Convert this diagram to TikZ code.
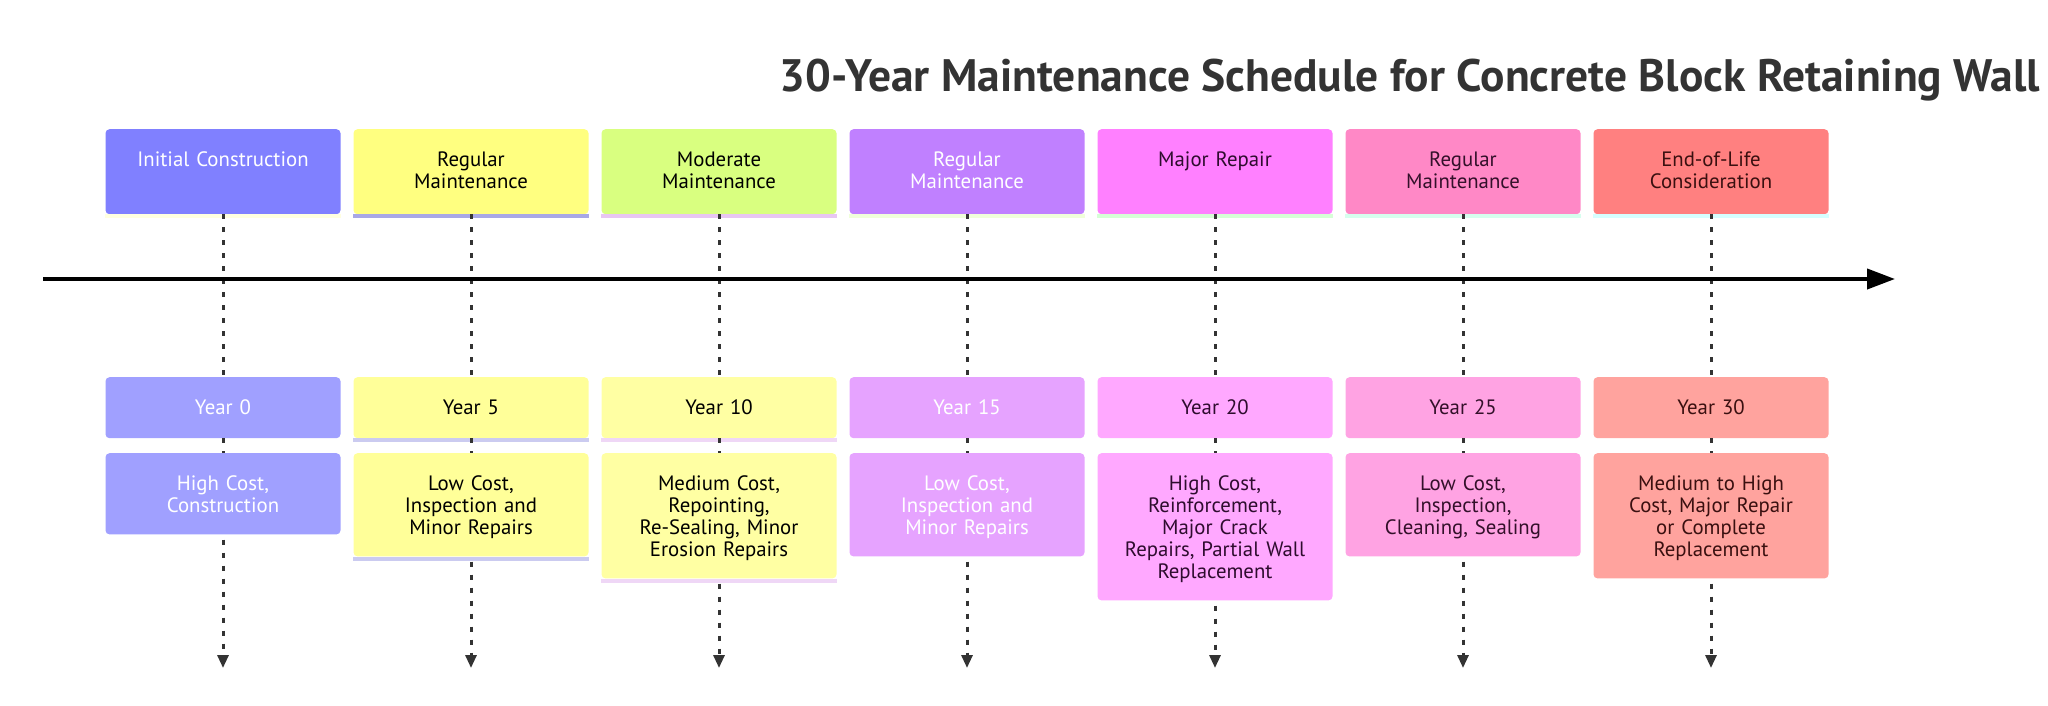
\documentclass[tikz,border=0pt]{standalone}
\usepackage{fontspec}
\setmainfont{PT Sans}
\usetikzlibrary{positioning,arrows.meta}

\definecolor{secA}{HTML}{8080FF}
\definecolor{secB}{HTML}{FFFF80}
\definecolor{secC}{HTML}{D9FF80}
\definecolor{secD}{HTML}{C080FF}
\definecolor{secE}{HTML}{FF80FF}
\definecolor{secF}{HTML}{FF88C6}
\definecolor{secG}{HTML}{FF8080}
\definecolor{evA}{HTML}{A0A0FF}
\definecolor{evB}{HTML}{FFFF99}
\definecolor{evC}{HTML}{FFFFA3}
\definecolor{evD}{HTML}{E6A3FF}
\definecolor{evE}{HTML}{FFA8FF}
\definecolor{evF}{HTML}{FFA3E3}
\definecolor{evG}{HTML}{FFA39E}
\definecolor{barA}{HTML}{FFFFE0}
\definecolor{barB}{HTML}{A8A8E6}
\definecolor{barC}{HTML}{E8C6F2}
\definecolor{barD}{HTML}{F0FFDA}
\definecolor{barE}{HTML}{D6FFD6}
\definecolor{barF}{HTML}{D6FFEE}
\definecolor{barG}{HTML}{D6FFFF}
\definecolor{txtE}{HTML}{2E0C2E}
\definecolor{txtF}{HTML}{33102A}
\definecolor{txtG}{HTML}{3A1010}
\definecolor{ink}{HTML}{333333}

\begin{document}
\begin{tikzpicture}[x=1pt,y=-1pt]
\tikzstyle{sec} = [anchor=north,text width=215pt,inner xsep=10pt,inner ysep=15.6pt,text height=21.4pt,text depth=32.4pt,align=center,rounded corners=4pt,font=\fontsize{20.8}{22}\selectfont]
\tikzstyle{yr} = [anchor=north,text width=215pt,inner xsep=10pt,inner ysep=0pt,minimum height=61pt,text height=14.5pt,text depth=0pt,align=center,rounded corners=4pt,font=\fontsize{20.8}{22}\selectfont]
\tikzstyle{ev} = [anchor=north,text width=215pt,inner xsep=10pt,inner ysep=15.6pt,text height=21.4pt,align=center,rounded corners=4pt,font=\fontsize{20.8}{22}\selectfont,execute at end node=\strut]
\tikzstyle{dl} = [ink,line width=3pt,dash pattern=on 5pt off 8pt]
\tikzstyle{tip} = [-{Triangle[length=13pt,width=11pt]}]
\tikzstyle{bar} = [line width=4pt]
\useasboundingbox (0,0) rectangle (2048,706);

\node[anchor=base,ink,font=\fontsize{45.5}{50}\selectfont\bfseries] (title) at (1410,92) {30-Year Maintenance Schedule for Concrete Block Retaining Wall};

\node[sec,fill=secA,text=white] (s0) at (223,129) {Initial Construction};
\node[sec,fill=secB] (s5) at (471,129) {Regular\\Maintenance};
\node[sec,fill=secC] (s10) at (719,129) {Moderate\\Maintenance};
\node[sec,fill=secD,text=white] (s15) at (967,129) {Regular\\Maintenance};
\node[sec,fill=secE,text=txtE] (s20) at (1215,129) {Major Repair};
\node[sec,fill=secF,text=txtF] (s25) at (1463,129) {Regular\\Maintenance};
\node[sec,fill=secG,text=txtG] (s30) at (1711,129) {End-of-Life\\Consideration};

\node[yr,fill=evA,text=white] (y0) at (223,377) {Year 0};
\node[yr,fill=evB] (y5) at (471,377) {Year 5};
\node[yr,fill=evC] (y10) at (719,377) {Year 10};
\node[yr,fill=evD,text=white] (y15) at (967,377) {Year 15};
\node[yr,fill=evE,text=txtE] (y20) at (1215,377) {Year 20};
\node[yr,fill=evF,text=txtF] (y25) at (1463,377) {Year 25};
\node[yr,fill=evG,text=txtG] (y30) at (1711,377) {Year 30};

\node[ev,fill=evA,text=white] (c0) at (223,453) {High Cost,\\Construction};
\node[ev,fill=evB] (c5) at (471,453) {Low Cost,\\Inspection and\\Minor Repairs};
\node[ev,fill=evC] (c10) at (719,453) {Medium Cost,\\Repointing,\\Re-Sealing, Minor\\Erosion Repairs};
\node[ev,fill=evD,text=white] (c15) at (967,453) {Low Cost,\\Inspection and\\Minor Repairs};
\node[ev,fill=evE,text=txtE] (c20) at (1215,453) {High Cost,\\Reinforcement,\\Major Crack\\Repairs, Partial Wall\\Replacement};
\node[ev,fill=evF,text=txtF] (c25) at (1463,453) {Low Cost,\\Inspection,\\Cleaning, Sealing};
\node[ev,fill=evG,text=txtG] (c30) at (1711,453) {Medium to High\\Cost, Major Repair\\or Complete\\Replacement};

\draw[bar,barA] ([yshift=-2pt]s0.south west) -- ([yshift=-2pt]s0.south east);
\draw[bar,barB] ([yshift=-2pt]s5.south west) -- ([yshift=-2pt]s5.south east);
\draw[bar,barC] ([yshift=-2pt]s10.south west) -- ([yshift=-2pt]s10.south east);
\draw[bar,barD] ([yshift=-2pt]s15.south west) -- ([yshift=-2pt]s15.south east);
\draw[bar,barE] ([yshift=-2pt]s20.south west) -- ([yshift=-2pt]s20.south east);
\draw[bar,barF] ([yshift=-2pt]s25.south west) -- ([yshift=-2pt]s25.south east);
\draw[bar,barG] ([yshift=-2pt]s30.south west) -- ([yshift=-2pt]s30.south east);
\draw[bar,barB!60] ([yshift=-2pt]y5.south west) -- ([yshift=-2pt]y5.south east);
\draw[bar,barB!60] ([yshift=-2pt]c5.south west) -- ([yshift=-2pt]c5.south east);
\draw[bar,barC!70] ([yshift=-2pt]y10.south west) -- ([yshift=-2pt]y10.south east);
\draw[bar,barC!70] ([yshift=-2pt]c10.south west) -- ([yshift=-2pt]c10.south east);

\coordinate (e0) at (223,668);
\coordinate (e5) at (471,668);
\coordinate (e10) at (719,668);
\coordinate (e15) at (967,668);
\coordinate (e20) at (1215,668);
\coordinate (e25) at (1463,668);
\coordinate (e30) at (1711,668);

\draw[dl] (s0) -- (y0);
\draw[dl] (s5) -- (y5);
\draw[dl] (s10) -- (y10);
\draw[dl] (s15) -- (y15);
\draw[dl] (s20) -- (y20);
\draw[dl] (s25) -- (y25);
\draw[dl] (s30) -- (y30);
\draw[dl] (y0) -- (c0);
\draw[dl] (y5) -- (c5);
\draw[dl] (y10) -- (c10);
\draw[dl] (y15) -- (c15);
\draw[dl] (y20) -- (c20);
\draw[dl] (y25) -- (c25);
\draw[dl] (y30) -- (c30);
\draw[dl,tip,shorten <=5pt] (c0) -- (e0);
\draw[dl,tip,shorten <=5pt] (c5) -- (e5);
\draw[dl,tip,shorten <=5pt] (c10) -- (e10);
\draw[dl,tip,shorten <=5pt] (c15) -- (e15);
\draw[dl,tip,shorten <=5pt] (c20) -- (e20);
\draw[dl,tip,shorten <=5pt] (c25) -- (e25);
\draw[dl,tip,shorten <=5pt] (c30) -- (e30);

\coordinate (ax0) at (43,279);
\coordinate (ax1) at (1895,279);
\draw[line width=4pt,-{Triangle[length=28pt,width=20pt]}] (ax0) -- (ax1);
\end{tikzpicture}
\end{document}
